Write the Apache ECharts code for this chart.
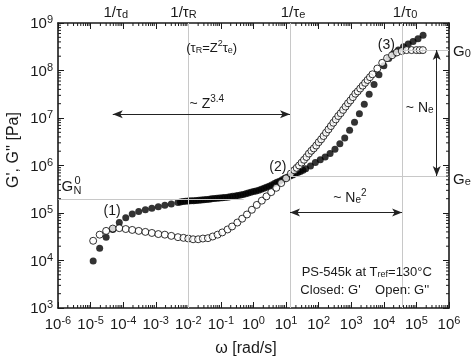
<!DOCTYPE html>
<html>
<head>
<meta charset="utf-8">
<script src="https://cdn.jsdelivr.net/npm/echarts@6/dist/echarts.min.js"></script>
<style>html,body{margin:0;padding:0;background:#fff}#c{width:474px;height:359px}</style>
</head>
<body>
<div id="c"></div>
<script>
// ---- data (omega in rad/s, moduli in Pa) ----
// storage modulus G' (closed symbols)
const omegaStorage = [
  1.2e-5, 1.9e-5, 3.0e-5, 4.8e-5, 7.6e-5, 1.2e-4, 1.9e-4, 3.0e-4, 4.8e-4, 7.6e-4,
  1.2e-3, 1.9e-3, 3.0e-3, 4.8e-3,
  5.75e-3, 6.9e-3, 8.3e-3, 1.0e-2, 1.2e-2, 1.45e-2, 1.74e-2, 2.1e-2, 2.5e-2, 3.0e-2,
  3.6e-2, 4.4e-2, 5.2e-2, 6.3e-2, 7.6e-2, 9.1e-2, 0.11, 0.13, 0.16, 0.19,
  0.23, 0.28, 0.33, 0.40, 0.48, 0.58, 0.69, 0.83, 1.0, 1.2,
  1.45, 1.74, 2.1, 2.5, 3.0, 3.6, 4.4, 5.2, 6.3, 7.6,
  9.1, 11, 13.2, 15.8, 19, 23, 27.5, 33, 40,
  56, 79, 112, 158, 224, 316, 447, 631, 891, 1259,
  1778, 2512, 3548, 5012, 7079, 1.0e4, 1.41e4, 2.0e4, 2.8e4, 4.0e4,
  5.6e4, 7.9e4, 1.12e5, 1.6e5
];
const gPrime = [
  9.8e3, 1.8e4, 3.1e4, 4.5e4, 6.3e4, 7.9e4, 9.5e4, 1.07e5, 1.17e5, 1.26e5,
  1.35e5, 1.45e5, 1.55e5, 1.66e5,
  1.70e5, 1.74e5, 1.76e5, 1.78e5, 1.80e5, 1.82e5, 1.84e5, 1.86e5, 1.88e5, 1.91e5,
  1.93e5, 1.95e5, 2.00e5, 2.02e5, 2.04e5, 2.07e5, 2.09e5, 2.11e5, 2.14e5, 2.19e5,
  2.24e5, 2.29e5, 2.34e5, 2.40e5, 2.45e5, 2.54e5, 2.63e5, 2.72e5, 2.82e5, 2.92e5,
  3.02e5, 3.16e5, 3.31e5, 3.47e5, 3.67e5, 3.89e5, 4.17e5, 4.42e5, 4.68e5, 5.01e5,
  5.37e5, 5.69e5, 6.03e5, 6.31e5, 6.68e5, 7.08e5, 7.50e5, 7.94e5, 8.51e5,
  9.77e5, 1.15e6, 1.32e6, 1.51e6, 1.78e6, 2.19e6, 2.88e6, 3.8e6, 5.5e6, 8.1e6,
  1.23e7, 1.95e7, 3.16e7, 5.1e7, 8.1e7, 1.26e8, 1.78e8, 2.24e8, 2.69e8, 3.16e8,
  3.63e8, 4.07e8, 4.68e8, 5.5e8
];
// loss modulus G'' (open symbols)
const omegaLoss = [
  1.2e-5, 1.9e-5, 3.0e-5, 4.8e-5, 7.6e-5, 1.2e-4, 1.9e-4, 3.0e-4, 4.8e-4, 7.6e-4,
  1.2e-3, 1.9e-3, 3.0e-3, 4.8e-3,
  7.1e-3, 1.0e-2, 1.4e-2, 2.0e-2, 2.8e-2, 4.0e-2, 5.6e-2, 7.9e-2, 0.11, 0.16,
  0.22, 0.32, 0.45, 0.63, 0.89, 1.26, 1.8, 2.5, 3.5, 5.0,
  7.1, 10, 14,
  17.8, 21.1, 25.1, 29.9, 35.5, 42.2, 50.1, 59.6, 70.8, 84.1,
  100, 119, 141, 168, 200, 237, 282, 335, 398, 473,
  562, 668, 794, 944, 1122, 1334, 1585, 1884, 2239, 2661,
  3162, 3758, 4467,
  6310, 8913, 1.26e4, 1.78e4, 2.51e4, 3.55e4, 5.0e4, 7.1e4, 1.0e5, 1.26e5, 1.58e5
];
const gDoublePrime = [
  2.6e4, 3.5e4, 4.2e4, 4.7e4, 4.8e4, 4.6e4, 4.4e4, 4.2e4, 4.0e4, 3.8e4,
  3.6e4, 3.5e4, 3.3e4, 3.1e4,
  3.0e4, 2.9e4, 2.8e4, 2.8e4, 2.9e4, 2.95e4, 3.2e4, 3.5e4, 3.9e4, 4.5e4,
  5.2e4, 6.3e4, 7.6e4, 9.3e4, 1.17e5, 1.48e5, 1.82e5, 2.24e5, 2.75e5, 3.39e5,
  4.27e5, 5.37e5, 6.76e5,
  7.94e5, 8.91e5, 1.0e6, 1.15e6, 1.32e6, 1.51e6, 1.78e6, 2.04e6, 2.29e6, 2.63e6,
  3.09e6, 3.55e6, 4.17e6, 4.9e6, 5.75e6, 6.76e6, 7.94e6, 9.33e6, 1.1e7, 1.26e7,
  1.48e7, 1.74e7, 2.04e7, 2.34e7, 2.75e7, 3.24e7, 3.63e7, 4.17e7, 4.79e7, 5.5e7,
  6.31e7, 7.24e7, 8.32e7,
  1.1e8, 1.45e8, 1.82e8, 2.09e8, 2.4e8, 2.57e8, 2.69e8, 2.69e8, 2.69e8, 2.69e8, 2.69e8
];
// characteristic frequencies: 1/tau_d, 1/tau_R, 1/tau_e, 1/tau_0
const guideFreqs = [4.8e-5, 5.75e-3, 13.2, 3.63e4];
const guideSubs = ['d', 'R', 'e', '0'];
// characteristic moduli: G_N^0, G_e, G_0
const modGN0 = 1.97e5, modGe = 6.0e5, modG0 = 2.7e8;
const xRange = [1e-6, 1e6];
const yRange = [1e3, 1e9];
const xDecades = [-6, -5, -4, -3, -2, -1, 0, 1, 2, 3, 4, 5];
const yDecades = [3, 4, 5, 6, 7, 8];
const minorMultipliers = [2, 3, 4, 5, 6, 7, 8, 9];

// ---- styling ----
const FONT = "'Liberation Sans', Arial, Helvetica, sans-serif";
const INK = '#1a1a1a';
const MARK = '#000';
const GUIDE = '#c8c8c8';

const chart = echarts.init(document.getElementById('c'), null, {renderer: 'canvas'});

function expLabel(v) {
  const e = Math.round(Math.log10(v));
  return '{b|10}{s|' + e + '}';
}
const tickRich = {
  b: {fontSize: 15, fontFamily: FONT, color: INK, lineHeight: 17, verticalAlign: 'bottom'},
  s: {fontSize: 11, fontFamily: FONT, color: INK, lineHeight: 10, verticalAlign: 'top'}
};
function axisBase(extra) {
  return Object.assign({
    type: 'log', logBase: 10, interval: 1,
    axisLine: {show: true, onZero: false, lineStyle: {color: INK, width: 1.6}},
    axisTick: {show: true, inside: true, length: 6, lineStyle: {color: INK, width: 1}},
    minorTick: {show: false},
    splitLine: {show: false}, minorSplitLine: {show: false},
    silent: true
  }, extra);
}

// minor tick values (2..9 x 10^n) along each axis
const minorX = [];
xDecades.forEach(e => minorMultipliers.forEach(m => minorX.push([m * Math.pow(10, e)])));
const minorY = [];
yDecades.forEach(e => minorMultipliers.forEach(m => minorY.push([m * Math.pow(10, e)])));

function tickLine(x1, y1, x2, y2) {
  return {type: 'line', shape: {x1: x1, y1: y1, x2: x2, y2: y2}, style: {stroke: INK, lineWidth: 1}};
}

const option = {
  animation: false,
  backgroundColor: '#fff',
  grid: {left: 58, right: 25, top: 23, bottom: 51, containLabel: false},
  xAxis: [
    axisBase({position: 'bottom', min: xRange[0], max: xRange[1],
      axisLabel: {formatter: expLabel, rich: tickRich, margin: 7}}),
    axisBase({position: 'top', min: xRange[0], max: xRange[1], axisLabel: {show: false}})
  ],
  yAxis: [
    axisBase({position: 'left', min: yRange[0], max: yRange[1],
      axisLabel: {formatter: expLabel, rich: tickRich, margin: 5}}),
    axisBase({position: 'right', min: yRange[0], max: yRange[1], axisLabel: {show: false}})
  ],
  series: [
    {
      type: 'line', data: [], z: 1, silent: true,
      markLine: {
        silent: true, symbol: 'none', animation: false,
        label: {show: false}, emphasis: {disabled: true},
        lineStyle: {color: GUIDE, width: 1, type: 'solid'},
        data: [
          {xAxis: guideFreqs[0]}, {xAxis: guideFreqs[1]}, {xAxis: guideFreqs[2]}, {xAxis: guideFreqs[3]},
          [{coord: [xRange[0], modGN0]}, {coord: [0.5, modGN0]}],
          [{coord: [guideFreqs[2], modGe]}, {coord: [xRange[1], modGe]}],
          [{coord: [guideFreqs[3], modG0]}, {coord: [xRange[1], modG0]}]
        ]
      }
    },
    {
      type: 'line', data: [], z: 2, silent: true,
      markLine: {
        silent: true, symbol: ['arrow', 'arrow'], symbolSize: [6, 10], animation: false,
        label: {show: false}, emphasis: {disabled: true},
        lineStyle: {color: '#222', width: 1, type: 'solid'},
        data: [
          [{coord: [guideFreqs[0], 1.2e7]}, {coord: [guideFreqs[2], 1.2e7]}],
          [{coord: [guideFreqs[2], 1.02e5]}, {coord: [guideFreqs[3], 1.02e5]}],
          [{coord: [4.2e5, modG0]}, {coord: [4.2e5, modGe]}]
        ]
      }
    },
    {
      type: 'scatter', name: "G'", z: 3,
      data: omegaStorage.map((w, i) => [w, gPrime[i]]),
      symbol: 'circle', symbolSize: 7,
      itemStyle: {color: MARK, borderWidth: 0}
    },
    {
      type: 'scatter', name: "G''", z: 4,
      data: omegaLoss.map((w, i) => [w, gDoublePrime[i]]),
      symbol: 'circle', symbolSize: 7,
      itemStyle: {color: '#fff', borderColor: MARK, borderWidth: 1}
    },
    {
      type: 'custom', name: 'xMinor', z: 10, silent: true,
      data: minorX.map(v => [v[0], yRange[0]]),
      renderItem: function (params, api) {
        const v = api.value(0);
        const b = api.coord([v, yRange[0]]);
        const t = api.coord([v, yRange[1]]);
        return {type: 'group', children: [tickLine(b[0], b[1], b[0], b[1] - 3), tickLine(t[0], t[1], t[0], t[1] + 3)]};
      }
    },
    {
      type: 'custom', name: 'yMinor', z: 10, silent: true,
      data: minorY.map(v => [xRange[0], v[0]]),
      renderItem: function (params, api) {
        const v = api.value(1);
        const l = api.coord([xRange[0], v]);
        const r = api.coord([xRange[1], v]);
        return {type: 'group', children: [tickLine(l[0], l[1], l[0] + 3, l[1]), tickLine(r[0], r[1], r[0] - 3, r[1])]};
      }
    }
  ]
};
chart.setOption(option);

// ---- text annotations placed through the chart's own coordinate conversion ----
const richT = function (size) {
  return {
    b: {fontSize: size, fontFamily: FONT, fill: INK, lineHeight: size + 3, verticalAlign: 'bottom'},
    sub: {fontSize: Math.round(size * 0.72), fontFamily: FONT, fill: INK, lineHeight: 7, verticalAlign: 'bottom'},
    sup: {fontSize: Math.round(size * 0.72), fontFamily: FONT, fill: INK, lineHeight: 9, verticalAlign: 'top'}
  };
};
function P(x, y) { return chart.convertToPixel({seriesIndex: 2}, [x, y]); }
function txt(pt, text, size, align) {
  return {
    type: 'text', x: pt[0], y: pt[1], silent: true, z: 100,
    style: {text: text, rich: richT(size), align: align || 'center', verticalAlign: 'middle', fill: INK, font: size + 'px ' + FONT}
  };
}
const graphics = [];
const topY = P(1, 1e9)[1] - 12;
guideFreqs.forEach((f, i) => {
  const p = P(f, 1e9);
  graphics.push(txt([p[0] + 3, topY], '{b|1/τ}{sub|' + guideSubs[i] + '}', 15));
});
graphics.push(txt(P(5.2e-2, 3.1e8), '{b|(τ}{sub|R}{b|=Z}{sup|2}{b|τ}{sub|e}{b|)}', 13));
graphics.push(txt(P(3.7e-2, 2.1e7), '{b|~ Z}{sup|3.4}', 14));
graphics.push(txt(P(9.1e2, 2.2e5), '{b|~ N}{sub|e}{sup|2}', 14));
graphics.push(txt(P(1.26e5, 1.7e7), '{b|~ N}{sub|e}', 14));
graphics.push(txt(P(4.6e-5, 1.2e5), '{b|(1)}', 14));
graphics.push(txt(P(5.6, 9.8e5), '{b|(2)}', 14));
graphics.push(txt(P(1.2e4, 3.6e8), '{b|(3)}', 14));
// G_N^0 (stacked sub/superscript)
const gn = P(1.95e-6, 3.5e5);
graphics.push(txt(gn, 'G', 15));
graphics.push(txt([gn[0] + 7, gn[1] - 6], '0', 11, 'left'));
graphics.push(txt([gn[0] + 6, gn[1] + 4], 'N', 11, 'left'));
// right-hand labels
const rx = P(xRange[1], 1e5)[0] + 4;
graphics.push(txt([rx, P(1, modG0)[1]], '{b|G}{sub|0}', 15, 'left'));
graphics.push(txt([rx, P(1, modGe)[1] + 2], '{b|G}{sub|e}', 15, 'left'));
// note
graphics.push(txt(P(3.0e3, 6.0e3), '{b|PS-545k at T}{sub|ref}{b|=130°C}', 13));
graphics.push(txt(P(2.6e3, 2.5e3), "{b|Closed: G'    Open: G''}", 13));
// axis titles
const yTitle = txt([14, 150], "G', G'' [Pa]", 16);
yTitle.rotation = Math.PI / 2;
graphics.push(yTitle);
graphics.push(txt([246, 349], 'ω [rad/s]', 16));

chart.setOption({graphic: {elements: graphics}});
</script>
</body>
</html>
